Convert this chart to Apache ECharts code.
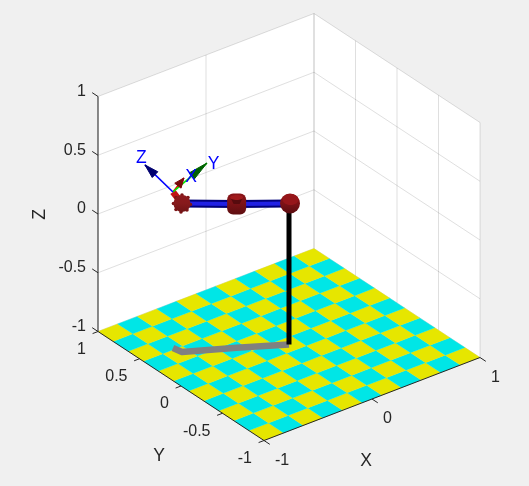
<!DOCTYPE html>
<html lang="en">
<head>
<meta charset="UTF-8">
<title>Robot arm</title>
<script src="https://cdn.jsdelivr.net/npm/echarts@6/dist/echarts.min.js"></script>
<style>
html, body { margin: 0; padding: 0; background: #f0f0f0; }
#main { width: 529px; height: 486px; }
</style>
</head>
<body>
<div id="main"></div>
<script>
// axis ticks
var xTicks = [-1, 0, 1];
var yTicks = [-1, -0.5, 0, 0.5, 1];
var zTicks = [-1, -0.5, 0, 0.5, 1];

// floor tile edges, 11 x 11
var tileEdges = [-1, -0.818, -0.636, -0.455, -0.273, -0.091, 0.091, 0.273, 0.455, 0.636, 0.818, 1];

// robot: shoulder, elbow, wrist, tool point
var armX = [0, -0.335, -0.692, -0.709];
var armY = [0, 0.195, 0.389, 0.4755];
var armZ = [0.2, 0.224, 0.264, 0.328];

// tips of the tool frame arrows
var frameNames = ['X', 'Y', 'Z'];
var frameTipX = [-0.659, -0.509, -0.909];
var frameTipY = [0.408, 0.326, 0.553];
var frameTipZ = [0.461, 0.573, 0.593];

// the view, as read from the box corners
var origin = [289, 227];
var ex = [108, -41.5], ey = [-83, -54.5], ez = [0, -117.5];

function project(p) {
    return [
        origin[0] + ex[0] * p[0] + ey[0] * p[1] + ez[0] * p[2],
        origin[1] + ex[1] * p[0] + ey[1] * p[1] + ez[1] * p[2]
    ];
}
function armPoint(i, z) {
    return [armX[i], armY[i], z === undefined ? armZ[i] : z];
}

var FONT = '"Liberation Sans", Arial, sans-serif';
var TEXT = '#262626';

// list of polylines or polygons -> custom series
function shapes(polys, type, styleOf) {
    return {
        type: 'custom',
        coordinateSystem: 'cartesian2d',
        silent: true,
        clip: false,
        data: polys.map(function (p, i) { return [i]; }),
        renderItem: function (params, api) {
            var i = params.dataIndex;
            var pts = polys[i].map(function (p) { return api.coord(project(p)); });
            return {
                type: type,
                shape: { points: pts },
                style: styleOf(i)
            };
        }
    };
}

// text placed at a 3d point with a pixel offset
function labels(items) {
    return {
        type: 'custom',
        coordinateSystem: 'cartesian2d',
        silent: true,
        clip: false,
        data: items.map(function (p, i) { return [i]; }),
        renderItem: function (params, api) {
            var it = items[params.dataIndex];
            var c = api.coord(project(it.at));
            return {
                type: 'text',
                x: c[0] + it.dx,
                y: c[1] + it.dy,
                rotation: it.rot || 0,
                style: {
                    text: it.text,
                    fill: it.color || TEXT,
                    font: (it.size || 16) + 'px ' + FONT,
                    align: it.align || 'center',
                    verticalAlign: 'middle'
                }
            };
        }
    };
}

// walls
var walls = [[[-1, 1, -1], [-1, 1, 1], [1, 1, 1], [1, -1, 1], [1, -1, -1], [1, 1, -1]]];

// grid lines on the two walls
var gridLines = [];
zTicks.forEach(function (z) {
    gridLines.push([[-1, 1, z], [1, 1, z], [1, -1, z]]);
});
xTicks.forEach(function (x) {
    gridLines.push([[x, 1, -1], [x, 1, 1]]);
});
yTicks.forEach(function (y) {
    gridLines.push([[1, y, -1], [1, y, 1]]);
});

// floor
var tiles = [], tileColors = [];
for (var i = 0; i < tileEdges.length - 1; i++) {
    for (var j = 0; j < tileEdges.length - 1; j++) {
        tiles.push([
            [tileEdges[i], tileEdges[j], -1],
            [tileEdges[i + 1], tileEdges[j], -1],
            [tileEdges[i + 1], tileEdges[j + 1], -1],
            [tileEdges[i], tileEdges[j + 1], -1]
        ]);
        tileColors.push((i + j) % 2 === 0 ? '#e6e600' : '#00e6e6');
    }
}

// axes and outward ticks
var axisLines = [
    [[-1, 1, -1], [-1, 1, 1]],
    [[-1, -1, -1], [1, -1, -1]],
    [[-1, 1, -1], [-1, -1, -1]]
];
zTicks.forEach(function (z) { axisLines.push([[-1, 1, z], [-1, 1.07, z]]); });
xTicks.forEach(function (x) { axisLines.push([[x, -1, -1], [x, -1.07, -1]]); });
yTicks.forEach(function (y) { axisLines.push([[-1, y, -1], [-1.05, y, -1]]); });

var tickLabels = [];
zTicks.forEach(function (z) {
    tickLabels.push({ at: [-1, 1, z], dx: -12, dy: -5, text: String(z), align: 'right' });
});
xTicks.forEach(function (x) {
    tickLabels.push({ at: [x, -1, -1], dx: 11, dy: 20, text: String(x), align: 'left' });
});
yTicks.forEach(function (y) {
    tickLabels.push({ at: [-1, y, -1], dx: -12, dy: 18, text: String(y), align: 'right' });
});
tickLabels.push({ at: [0, -1, -1], dx: -6, dy: 62, text: 'X', size: 17.5 });
tickLabels.push({ at: [-1, 0, -1], dx: -22, dy: 70, text: 'Y', size: 17.5 });
tickLabels.push({ at: [-1, 1, 0], dx: -58, dy: 0.5, text: 'Z', size: 17.5, rot: Math.PI / 2 });

// robot pieces
var shadow = [[armPoint(0, -1), armPoint(1, -1), armPoint(2, -1), armPoint(3, -1)]];
var pole = [[[0, 0, -1], [0, 0, armZ[0]]]];
var arm = [[armPoint(0), armPoint(1), armPoint(2)]];
var toolLink = [[armPoint(2), armPoint(3)]];

var frameColors = ['#ee0000', '#00f000', '#0000ff'];
var headColors = ['#7a0a0a', '#006000', '#000070'];
var headStart = [0.45, 0.55, 0.64];
var headWidth = [4, 4, 4];
var frameLines = frameNames.map(function (n, k) {
    return [armPoint(3), [frameTipX[k], frameTipY[k], frameTipZ[k]]];
});
var frameLabels = [
    { at: [frameTipX[0], frameTipY[0], frameTipZ[0]], dx: 7, dy: -1, text: 'X', color: '#0000ff', size: 17.5 },
    { at: [frameTipX[1], frameTipY[1], frameTipZ[1]], dx: 6.5, dy: 1, text: 'Y', color: '#0000ff', size: 17.5 },
    { at: [frameTipX[2], frameTipY[2], frameTipZ[2]], dx: -3.5, dy: -7, text: 'Z', color: '#0000ff', size: 17.5 }
];

var headSeries = {
    type: 'custom',
    coordinateSystem: 'cartesian2d',
    silent: true,
    clip: false,
    data: frameNames.map(function (n, k) { return [k]; }),
    renderItem: function (params, api) {
        var k = params.dataIndex;
        var a = api.coord(project(armPoint(3)));
        var t = api.coord(project([frameTipX[k], frameTipY[k], frameTipZ[k]]));
        var b = [a[0] + (t[0] - a[0]) * headStart[k], a[1] + (t[1] - a[1]) * headStart[k]];
        var dx = t[0] - a[0], dy = t[1] - a[1];
        var len = Math.sqrt(dx * dx + dy * dy);
        var nx = -dy / len * headWidth[k], ny = dx / len * headWidth[k];
        return {
            type: 'polygon',
            shape: { points: [t, [b[0] + nx, b[1] + ny], [b[0] - nx, b[1] - ny]] },
            style: { fill: headColors[k], stroke: headColors[k], lineWidth: 1 }
        };
    }
};

function redGrad(top, mid, bottom) {
    return new echarts.graphic.LinearGradient(0, 0, 0, 1, [
        { offset: 0, color: top }, { offset: 0.5, color: mid }, { offset: 1, color: bottom }
    ]);
}

// joints: 0 shoulder, 1 elbow, 2 wrist
var jointSeries = {
    type: 'custom',
    coordinateSystem: 'cartesian2d',
    silent: true,
    clip: false,
    data: [[0], [1], [2]],
    renderItem: function (params, api) {
        var k = params.dataIndex;
        var c = api.coord(project(armPoint(k)));
        var kids = [];
        if (k === 0) {
            kids.push({ type: 'circle', shape: { cx: 1, cy: 0, r: 10 }, style: { fill: redGrad('#8c1414', '#7c1216', '#5a0c10') } });
            kids.push({ type: 'ellipse', shape: { cx: 1.5, cy: -4, rx: 8, ry: 5.5 }, style: { fill: '#96161a' } });
        } else if (k === 1) {
            kids.push({ type: 'rect', shape: { x: -9.5, y: -10.5, width: 19, height: 21, r: 6 }, style: { fill: redGrad('#8a1418', '#7a1216', '#5e0e10') } });
            kids.push({ type: 'polygon', shape: { points: [[-6, -6], [6, -6], [3, 0], [-3, 0]] }, style: { fill: '#560b0e' } });
            kids.push({ type: 'ellipse', shape: { cx: 0, cy: -6.5, rx: 6.5, ry: 2.5 }, style: { fill: '#a01a1c' } });
        } else {
            var bumps = [[-6, -6], [0, -8.5], [6, -6], [8.5, 1], [5, 6.5], [-1, 8.5], [-6, 6], [-8.5, 0]];
            bumps.forEach(function (b) {
                kids.push({ type: 'circle', shape: { cx: b[0], cy: b[1], r: 1.8 }, style: { fill: '#7c1416' } });
            });
            kids.push({ type: 'circle', shape: { cx: 0, cy: 0, r: 8.5 }, style: { fill: redGrad('#8e1a1e', '#861a1c', '#701416') } });
        }
        return { type: 'group', x: c[0], y: c[1], children: kids };
    }
};

var series = [
    shapes(walls, 'polygon', function () { return { fill: '#ffffff' }; }),
    shapes(gridLines, 'polyline', function () { return { fill: null, stroke: 'rgba(38,38,38,0.15)', lineWidth: 1 }; }),
    shapes(tiles, 'polygon', function (i) { return { fill: tileColors[i], stroke: tileColors[i], lineWidth: 0.3 }; }),
    shapes(axisLines, 'polyline', function () { return { fill: null, stroke: TEXT, lineWidth: 1 }; }),
    shapes(shadow, 'polyline', function () { return { fill: null, stroke: '#808080', lineWidth: 6.5, lineJoin: 'round' }; }),
    shapes(pole, 'polyline', function () { return { fill: null, stroke: '#000000', lineWidth: 5 }; }),
    shapes(arm, 'polyline', function () { return { fill: null, stroke: '#00007a', lineWidth: 8 }; }),
    shapes(arm, 'polyline', function () { return { fill: null, stroke: '#2020e4', lineWidth: 4 }; }),
    shapes(toolLink, 'polyline', function () { return { fill: null, stroke: '#c01418', lineWidth: 6.5 }; }),
    shapes(frameLines, 'polyline', function (i) { return { fill: null, stroke: frameColors[i], lineWidth: 1.6 }; }),
    headSeries,
    jointSeries,
    labels(tickLabels),
    labels(frameLabels)
];

var chart = echarts.init(document.getElementById('main'), null, { renderer: 'canvas' });
chart.setOption({
    animation: false,
    backgroundColor: '#f0f0f0',
    grid: { left: 0, right: 0, top: 0, bottom: 0 },
    // plain pixel scale for the projected points
    xAxis: { type: 'value', min: 0, max: 529, show: false },
    yAxis: { type: 'value', min: 0, max: 486, inverse: true, show: false },
    series: series
});
</script>
</body>
</html>
